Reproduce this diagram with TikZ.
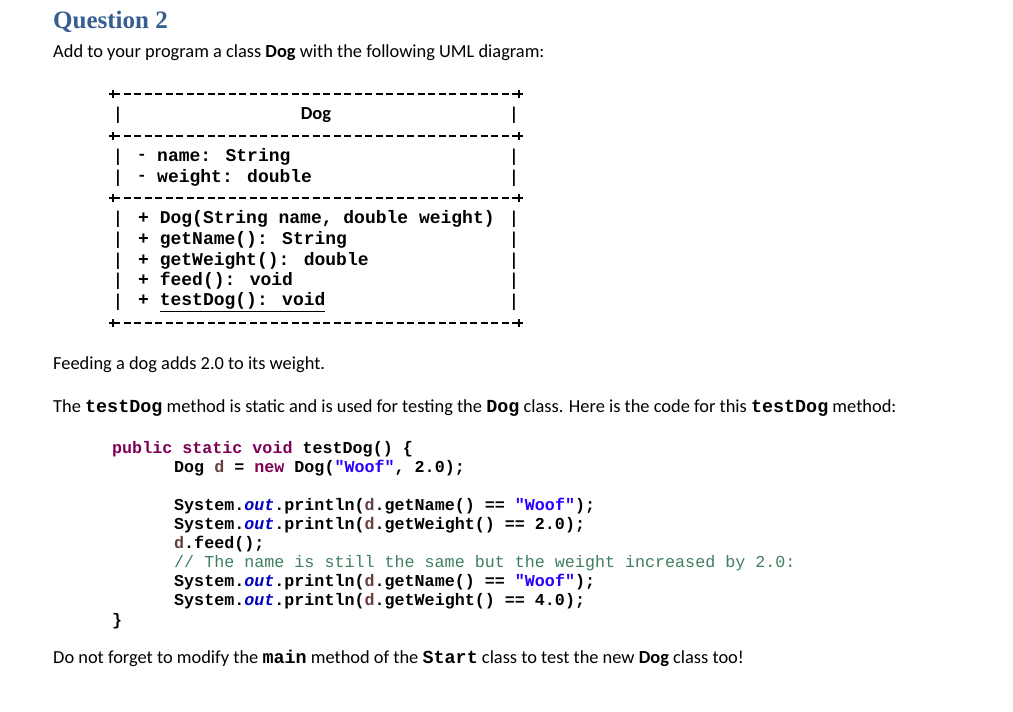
\documentclass[tikz,border=0pt]{standalone}
\usepackage{fontspec}
\setmainfont{Carlito}
\newfontfamily\headf{Liberation Serif}
\newfontfamily\cmono{Liberation Mono}
\definecolor{headblue}{HTML}{365F91}
\definecolor{kw}{HTML}{7F0055}
\definecolor{str}{HTML}{2A00FF}
\definecolor{fld}{HTML}{0000C0}
\definecolor{loc}{HTML}{6A3E3E}
\definecolor{cmt}{HTML}{3F7F5F}
\newcommand{\mb}[1]{{\cmono\bfseries #1}}
\newcommand{\K}[1]{\textcolor{kw}{#1}}
\newcommand{\Sx}[1]{\textcolor{str}{#1}}
\newcommand{\F}[1]{\textcolor{fld}{\itshape #1}}
\newcommand{\Dv}{\textcolor{loc}{d}}
\begin{document}
\begin{tikzpicture}[x=1pt,y=-1pt,
  body/.style={anchor=west,inner sep=0pt,font=\fontsize{18.4}{22}\selectfont},
  uml/.style={anchor=west,inner sep=0pt,font=\fontsize{18}{20}\cmono\bfseries},
  bar/.style={anchor=center,inner sep=0pt,font=\fontsize{18.4}{22}\bfseries},
  code/.style={anchor=west,inner sep=0pt,font=\fontsize{16.7}{19}\cmono\bfseries},
  border/.style={line width=1.4pt,dash pattern=on 7pt off 3.5pt},
  plus/.style={line width=1.2pt}]
\useasboundingbox (0,0) rectangle (1013,712);
\fill[white] (0,0) rectangle (1013,712);
\node[body,font=\fontsize{25}{28}\headf\bfseries,text=headblue] (h) at (53,22) {Question 2};
\node[body] (t1) at (53,53) {Add to your program a class \textbf{Dog} with the following UML diagram:};
\foreach \y/\n in {94/b1,136/b2,198/b3,323/b4}{
  \coordinate (\n l) at (113,\y); \coordinate (\n r) at (519,\y);
  \draw[border] (\n l) -- (\n r);
  \draw[plus] ([xshift=-4pt]\n l) -- ([xshift=4pt]\n l) ([yshift=-4pt]\n l) -- ([yshift=4pt]\n l);
  \draw[plus] ([xshift=-4pt]\n r) -- ([xshift=4pt]\n r) ([yshift=-4pt]\n r) -- ([yshift=4pt]\n r);
}
\foreach \y in {115,157,178,219,240,261,281,302}{
  \node[bar] at (118,\y) {|};
  \node[bar] at (514,\y) {|};
}
\node[bar] (dog) at (316,115) {Dog};
\node[body,font=\fontsize{18.4}{22}\bfseries] (m1) at (139,157) {-};
\node[body,font=\fontsize{18.4}{22}\bfseries] (m2) at (139,178) {-};
\node[uml] (a1) at (157,157) {name: String};
\node[uml] (a2) at (157,178) {weight: double};
\foreach \y/\t in {219/{+ Dog(String name, double weight)},240/{+ getName(): String},261/{+ getWeight(): double},281/{+ feed(): void}}{
  \node[uml] at (138,\y) {\t};
}
\node[uml] (op5) at (138,302) {+ \underline{testDog(): void}};
\node[body] (t2) at (53,365) {Feeding a dog adds 2.0 to its weight.};
\node[body] (t3) at (53,408) {The \mb{testDog} method is static and is used for testing the \mb{Dog} class. Here is the code for this \mb{testDog} method:};
\node[code] (c1) at (112,449) {\K{public static void} testDog() \{};
\node[code] (c2) at (174,468) {Dog \Dv{} = \K{new} Dog(\Sx{"Woof"}, 2.0);};
\node[code] (c3) at (174,506) {System.\F{out}.println(\Dv.getName() == \Sx{"Woof"});};
\node[code] (c4) at (174,525) {System.\F{out}.println(\Dv.getWeight() == 2.0);};
\node[code] (c5) at (174,544) {\Dv.feed();};
\node[code,font=\fontsize{16.7}{19}\cmono,text=cmt] (c6) at (174,563) {// The name is still the same but the weight increased by 2.0:};
\node[code] (c7) at (174,582) {System.\F{out}.println(\Dv.getName() == \Sx{"Woof"});};
\node[code] (c8) at (174,601) {System.\F{out}.println(\Dv.getWeight() == 4.0);};
\node[code] (c9) at (112,621) {\}};
\node[body] (t4) at (53,658) {Do not forget to modify the \mb{main} method of the \mb{Start} class to test the new \textbf{Dog} class too!};
\end{tikzpicture}
\end{document}
